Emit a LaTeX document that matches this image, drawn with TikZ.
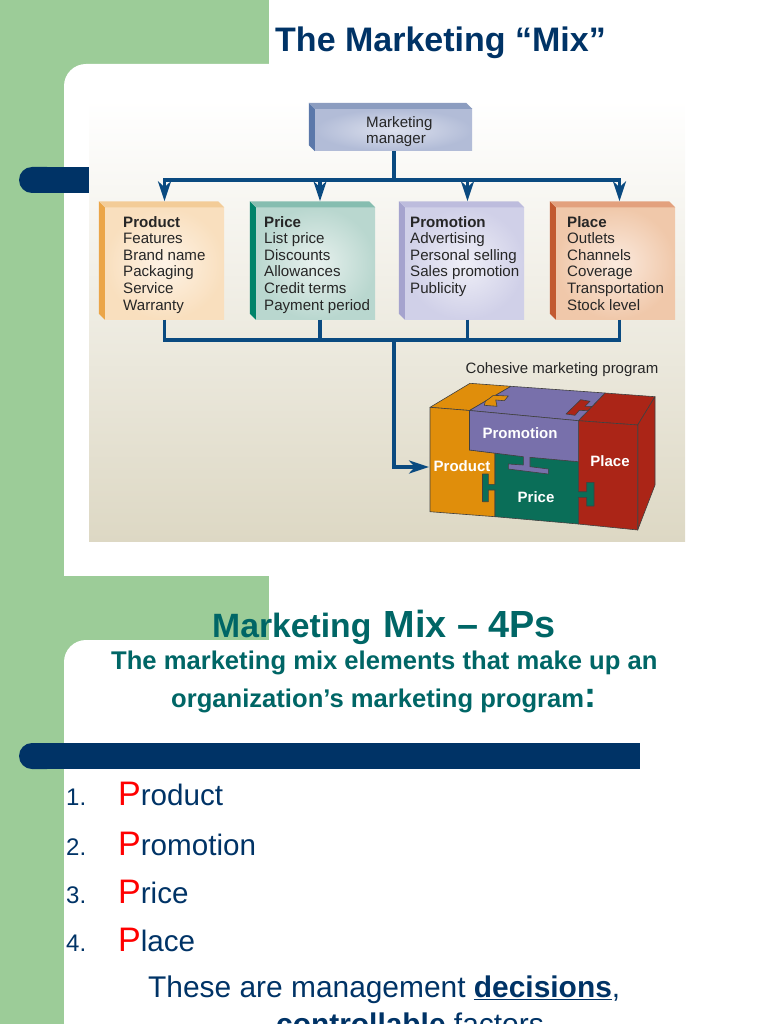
\documentclass[tikz,border=0pt]{standalone}
\usepackage{fontspec}
\setmainfont{Liberation Sans}
\usetikzlibrary{arrows.meta}
\definecolor{slidegreen}{HTML}{9CCC98}
\definecolor{navy}{HTML}{003366}
\definecolor{teal}{HTML}{006666}
\definecolor{flowblue}{HTML}{0A4A80}
\definecolor{puzorange}{HTML}{E08E0B}
\definecolor{puzpurple}{HTML}{7870AB}
\definecolor{puzgreen}{HTML}{0A6E58}
\definecolor{puzred}{HTML}{AB2517}
\definecolor{backMid}{HTML}{F5F2EA}
\definecolor{backLow}{HTML}{DDD8C4}
\definecolor{managerIn}{HTML}{DDE1EE}
\definecolor{managerOut}{HTML}{B2BCD7}
\definecolor{managerSide}{HTML}{5B78AA}
\definecolor{managerTop}{HTML}{8C9DC0}
\definecolor{productIn}{HTML}{FDF3E6}
\definecolor{productOut}{HTML}{F9DFBE}
\definecolor{productSide}{HTML}{EBA548}
\definecolor{productTop}{HTML}{F3CC98}
\definecolor{priceIn}{HTML}{E8F1EE}
\definecolor{priceOut}{HTML}{B9D7CF}
\definecolor{priceSide}{HTML}{00836A}
\definecolor{priceTop}{HTML}{86BDB0}
\definecolor{promotionIn}{HTML}{EFEFF7}
\definecolor{promotionOut}{HTML}{D0D0E8}
\definecolor{promotionSide}{HTML}{A5A3CE}
\definecolor{promotionTop}{HTML}{BDBCDD}
\definecolor{placeIn}{HTML}{FBEADE}
\definecolor{placeOut}{HTML}{F0C8AA}
\definecolor{placeSide}{HTML}{C25A30}
\definecolor{placeTop}{HTML}{E3A17E}
\tikzset{
    flow/.style={draw=flowblue, line width=3.4pt},
    flowtip/.style={flow, -{Stealth[length=20pt,width=13pt,inset=6pt]}},
    faceA/.style={minimum width=119pt, minimum height=112pt, inner sep=0pt, shading=radial},
    boxtext/.style={anchor=north west, inner sep=0pt, align=left, text=black!85, font=\fontsize{15.1}{16.6}\selectfont},
    puz/.style={draw=black!75, line width=.6pt, line join=round},
    puztext/.style={text=white, inner sep=0pt, font=\fontsize{15}{16}\selectfont\bfseries},
    slidetext/.style={anchor=base west, inner sep=0pt}
}
% bevelled left and top edge of a box
\newcommand{\bevel}[1]{
    \fill[#1Side]([xshift=-6pt,yshift=6pt]#1.north west)--(#1.north west)--(#1.south west)--([xshift=-6pt,yshift=6pt]#1.south west)--cycle;
    \fill[#1Top]([xshift=-6pt,yshift=6pt]#1.north west)--([xshift=-6pt,yshift=6pt]#1.north east)--(#1.north east)--(#1.north west)--cycle;
}
\begin{document}
\begin{tikzpicture}[x=1pt, y=-1pt]
\useasboundingbox (0,0) rectangle (768,1024);

% slide backgrounds
\fill[slidegreen](0,0) rectangle (64,1024);
\foreach \y in {0,576}
{
    \fill[slidegreen](0,\y) rectangle (269,\y+90);
    \fill[white, rounded corners=22pt](64,\y+64) rectangle (420,\y+140);
}
\fill[navy, rounded corners=13pt](19,167) rectangle (60,193);
\fill[navy](32,167) rectangle (89,193);
\fill[navy, rounded corners=13pt](19,743) rectangle (60,769);
\fill[navy](32,743) rectangle (640,769);

% first slide
\node[slidetext, text=navy, font=\fontsize{34}{36}\selectfont\bfseries] (title) at (275,52) {The Marketing “Mix”};
\shade[top color=white, middle color=backMid, bottom color=backLow](89,100) rectangle (685,541);

\node[minimum width=157pt, minimum height=42pt, inner sep=0pt, shading=radial, inner color=managerIn, outer color=managerOut] (manager) at (393.5,130) {};
\node[boxtext] (managerText) at (366,116) {Marketing\\manager};
\foreach \name/\xpos in {product/164.5,price/315.5,promotion/464.5,place/615.5}
{
    \node[faceA, inner color=\name In, outer color=\name Out] (\name) at (\xpos,263.5) {};
    \bevel{\name}
}
\bevel{manager}

\node[boxtext] (productText) at (123,216) {\textbf{Product}\\Features\\Brand name\\Packaging\\Service\\Warranty};
\node[boxtext] (priceText) at (264,216) {\textbf{Price}\\List price\\Discounts\\Allowances\\Credit terms\\Payment period};
\node[boxtext] (promotionText) at (410,216) {\textbf{Promotion}\\Advertising\\Personal selling\\Sales promotion\\Publicity};
\node[boxtext] (placeText) at (567,216) {\textbf{Place}\\Outlets\\Channels\\Coverage\\Transportation\\Stock level};

\coordinate (busTop) at (394,180);
\coordinate (busBottom) at (394,340);
\coordinate (cubeEntry) at (429,467);
\draw[flow](manager.south-|busTop)--(busTop);
\foreach \name/\shiftx in {product/0pt,price/4.5pt,promotion/3pt,place/4pt}
{
    \draw[flowtip, shorten >=6pt](busTop)-|([xshift=\shiftx]\name.north);
    \draw[flow]([xshift=\shiftx]\name.south)|-(busBottom);
}
\draw[flowtip](busBottom)|-(cubeEntry);

% puzzle cube
\fill[puzorange, puz](430,407.3)--(470,383.3)--(511,386.3)--(469.5,410.5)--cycle;
\fill[puzred, puz](605,393)--(655,396.7)--(637.7,425)--(578.3,420.7)--cycle;
\fill[puzred, puz](655,396.7)--(655,485)--(637.7,530)--(637.7,425)--cycle;
\fill[puzpurple, puz](469.5,410.5)--(511,386.3)--(605,393)--(578.3,420.7)--cycle;
\fill[puzorange, puz](490,398)--(493.3,395.3)--(508.3,396)--(504.3,400.7)--(495.7,400)--(497,406.3)--(484.3,405.3)--(485.3,401.3)--cycle;
\fill[puzred, puz](566,414)--(580.7,399.7)--(590,401.3)--(585,406.3)--(592,406.3)--(588,410.7)--(579.3,410.3)--(575,415.3)--cycle;
\fill[puzorange, puz](430,407.3)--(469.5,410.5)--(469.5,450)--(495,453)--(495,516.7)--(430,511.7)--cycle;
\fill[puzred, puz](578.3,420.7)--(637.7,425)--(637.7,530)--(578.3,524)--cycle;
\fill[puzgreen, puz](495,453)--(578.3,461.7)--(578.3,491.7)--(586.7,491.7)--(586.7,482.3)--(594,482.3)--(594,506)--(586.7,506)--(586.7,497.3)--(578.3,497.3)--(578.3,524)--(495,516.7)--(495,490)--(488.3,490)--(488.3,501.7)--(482.5,501.7)--(482.5,474)--(488.3,474)--(488.3,484.3)--(495,484.3)--cycle;
\fill[puzpurple, puz](469.5,410.5)--(578.3,420.7)--(578.3,461.7)--(530,457.3)--(530,466.7)--(548.3,469)--(548.3,474)--(508.3,469)--(508.3,464)--(523.3,465)--(523.3,456.7)--(469.5,450)--cycle;

\node[puztext] (productLabel) at (462,466) {Product};
\node[puztext] (promotionLabel) at (520,433) {Promotion};
\node[puztext] (placeLabel) at (610,461) {Place};
\node[puztext] (priceLabel) at (536,497) {Price};
\node[text=black!85, inner sep=0pt, font=\fontsize{15}{16}\selectfont] (cubeTitle) at (562,370) {Cohesive marketing program};

% second slide
\node[slidetext, text=teal, font=\fontsize{33.7}{36}\selectfont\bfseries] (title2) at (212,637) {Marketing\hspace{3pt} {\fontsize{37.8}{38}\selectfont Mix – 4Ps}};
\node[slidetext, text=teal, font=\fontsize{25.6}{30}\selectfont\bfseries] (sub1) at (111,669) {The marketing mix elements that make up an};
\node[slidetext, text=teal, font=\fontsize{25.6}{30}\selectfont\bfseries] (sub2) at (171,707) {organization’s marketing program{\fontsize{36}{36}\selectfont :}};

\foreach \i/\rest/\y in {1/roduct/805,2/romotion/855,3/rice/903,4/lace/951}
{
    \node[slidetext, text=navy, font=\fontsize{24}{28}\selectfont] (num\i) at (66,\y) {\i.};
    \node[slidetext, text=navy, font=\fontsize{29.6}{34}\selectfont] (item\i) at (118,\y) {{\fontsize{34}{34}\selectfont\color{red}P}\rest};
}
\node[slidetext, text=navy, font=\fontsize{29.9}{34}\selectfont] (note1) at (148,997) {These are management \textbf{\underline{decisions}},};
\node[slidetext, text=navy, font=\fontsize{29.9}{34}\selectfont] (note2) at (276,1034) {\textbf{\underline{controllable}} factors};
\end{tikzpicture}
\end{document}
